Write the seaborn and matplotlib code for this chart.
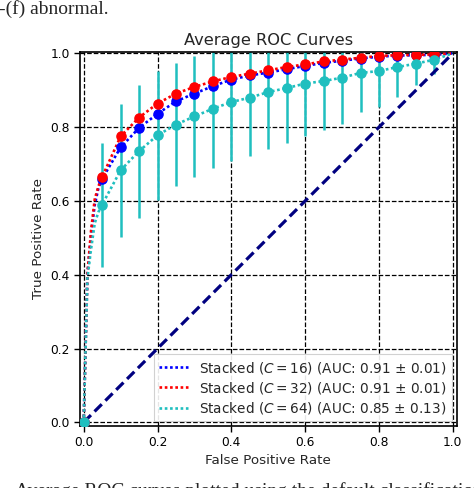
import matplotlib
matplotlib.use("Agg")
import matplotlib.pyplot as plt
import seaborn as sns
import numpy as np

# ---- data ----
fpr = [0.0, 0.01, 0.02, 0.03, 0.04,
       0.05, 0.10, 0.15, 0.20, 0.25, 0.30, 0.35, 0.40, 0.45, 0.50,
       0.55, 0.60, 0.65, 0.70, 0.75, 0.80, 0.85, 0.90, 0.95, 1.0]
tpr_c16 = [0.0, 0.40, 0.51, 0.59, 0.635,
           0.660, 0.745, 0.798, 0.836, 0.870, 0.891, 0.911, 0.929, 0.940, 0.948,
           0.957, 0.966, 0.974, 0.980, 0.986, 0.991, 0.994, 0.995, 0.996, 1.0]
tpr_c32 = [0.0, 0.40, 0.52, 0.605, 0.64,
           0.665, 0.775, 0.826, 0.864, 0.891, 0.909, 0.924, 0.936, 0.945, 0.954,
           0.963, 0.970, 0.978, 0.983, 0.988, 0.993, 0.995, 0.996, 0.997, 1.0]
tpr_c64 = [0.0, 0.39, 0.47, 0.54, 0.57,
           0.590, 0.683, 0.735, 0.778, 0.807, 0.829, 0.850, 0.868, 0.880, 0.895,
           0.906, 0.918, 0.925, 0.934, 0.947, 0.952, 0.963, 0.972, 0.983, 1.0]
# std of C=64 at the marker positions (fpr = 0, 0.05, ..., 0.95)
std_c64 = [0.0, 0.168, 0.181, 0.180, 0.175, 0.167, 0.164, 0.161, 0.160, 0.159,
           0.153, 0.149, 0.143, 0.132, 0.125, 0.106, 0.098, 0.080, 0.059, 0.038]
marker_idx = [0] + list(range(5, 24))

labels = [r"Stacked ($C=16$) (AUC: 0.91 $\pm$ 0.01)",
          r"Stacked ($C=32$) (AUC: 0.91 $\pm$ 0.01)",
          r"Stacked ($C=64$) (AUC: 0.85 $\pm$ 0.13)"]
colors = ["#0000ff", "#ff0000", "#1fbfbf"]
title = "Average ROC Curves"
xlabel = "False Positive Rate"
ylabel = "True Positive Rate"
top_caption = "-(f) abnormal."
bottom_caption = "Average ROC curves plotted using the default classification"

# ---- figure ----
sns.set_style("ticks")
plt.rcParams["font.family"] = ["DejaVu Sans"]

fig = plt.figure(figsize=(4.74, 4.88), dpi=100)
ax = fig.add_axes([80 / 474, 1 - 426 / 488, 376.5 / 474, 374.5 / 488])

ax.set_axisbelow(True)
ax.grid(True, color="black", linestyle="--", linewidth=0.9)

series = [tpr_c16, tpr_c32, tpr_c64]
for tpr, lab, col in zip(series, labels, colors):
    sns.lineplot(x=fpr, y=tpr, ax=ax, color=col, linestyle=(0, (1, 1)),
                 linewidth=1.9, label=lab, sort=False, estimator=None, zorder=3)

fpr_m = [fpr[i] for i in marker_idx]
c64_m = [tpr_c64[i] for i in marker_idx]
ax.errorbar(fpr_m, c64_m, yerr=std_c64, fmt="none", ecolor=colors[2],
            elinewidth=1.8, capsize=0, zorder=2)
for k, (tpr, col) in enumerate(zip(series, colors)):
    ax.plot(fpr, tpr, linestyle="none", marker="o", markersize=6.6,
            markevery=marker_idx, color=col, markeredgecolor=col, zorder=4 + k)

ax.plot([0, 1], [0, 1], color="navy", linewidth=2.3, linestyle=(0, (3.2, 1.6)), zorder=3)

ax.set_xlim(-0.01, 1.01)
ax.set_ylim(-0.01, 1.005)
ax.set_xticks([0.0, 0.2, 0.4, 0.6, 0.8, 1.0])
ax.set_yticks([0.0, 0.2, 0.4, 0.6, 0.8, 1.0])
ax.tick_params(direction="out", length=4, width=1, labelsize=8.8, colors="black")
for s in ax.spines.values():
    s.set_visible(True)
    s.set_color("black")
    s.set_linewidth(1.2)

ax.set_title(title, fontsize=11.7, pad=5)
ax.set_xlabel(xlabel, fontsize=9.7, labelpad=3)
ax.set_ylabel(ylabel, fontsize=9.7, labelpad=4)

leg = ax.legend(loc="lower right", fontsize=9.8, framealpha=0.9,
                edgecolor="#cccccc", fancybox=False, handlelength=2.1,
                borderaxespad=0.35, labelspacing=0.3)
leg.get_frame().set_linewidth(0.8)

fig.text(-0.002, 1 - 13.5 / 488, top_caption, family="Liberation Serif",
         fontsize=14, va="baseline", ha="left")
fig.text(15 / 474, -8 / 488, bottom_caption, family="Liberation Serif",
         fontsize=14, va="baseline", ha="left")

fig.savefig("out.png", dpi=100)
